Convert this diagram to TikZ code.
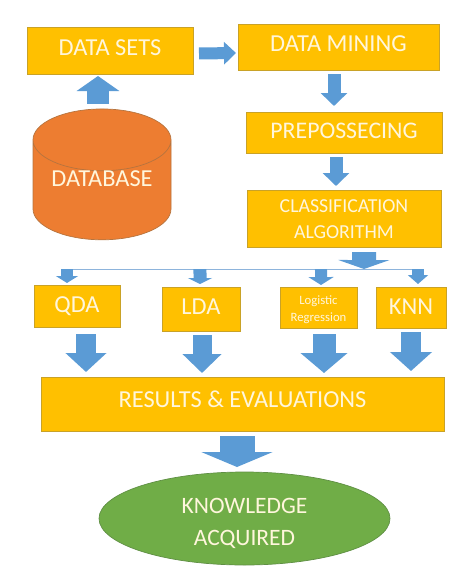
\documentclass[tikz,border=0pt]{standalone}
\usepackage{fontspec}
\setmainfont{Carlito}
\usepackage{xcolor}
\usepackage{tikz}
\usetikzlibrary{arrows.meta,positioning,calc,shapes.geometric}
\definecolor{boxfill}{HTML}{FFC000}
\definecolor{boxline}{HTML}{C9A227}
\definecolor{arrowfill}{HTML}{5B9BD5}
\definecolor{branchline}{HTML}{8DB4DC}
\definecolor{dbfill}{HTML}{ED7D31}
\definecolor{dbline}{HTML}{B5743F}
\definecolor{okfill}{HTML}{70AD47}
\definecolor{okline}{HTML}{5F8F44}
\definecolor{labeltext}{HTML}{FFF6DC}
\tikzset{
  stagebox/.style={draw=boxline, line width=0.7pt, fill=boxfill, text=labeltext, align=center, inner sep=0pt, outer sep=0pt, font=\fontsize{24.4}{27}\selectfont},
  fatarrow/.style n args={3}{draw=arrowfill, line width=#1pt, -{Triangle[width=#2pt,length=#3pt]}},
}
\begin{document}
\begin{tikzpicture}[x=1pt, y=-1pt]
\useasboundingbox (0,0) rectangle (474,586);
\node[stagebox, minimum width=166pt, minimum height=47pt] (datasets) at (110,50.5) {\raisebox{6pt}{DATA SETS}};
\node[stagebox, minimum width=201pt, minimum height=46pt] (mining) at (338.5,47) {\raisebox{7pt}{DATA MINING}};
\node[stagebox, minimum width=196pt, minimum height=41pt, font=\fontsize{23.8}{27}\selectfont] (prep) at (344,132.5) {\raisebox{3pt}{PREPOSSECING}};
\node[stagebox, minimum width=194pt, minimum height=57pt, font=\fontsize{19.8}{26}\selectfont] (classif) at (344,218.5) {\rule{0pt}{15pt}CLASSIFICATION\\ALGORITHM};
\node[stagebox, minimum width=86pt, minimum height=42pt] (qda) at (77,306) {QDA};
\node[stagebox, minimum width=78pt, minimum height=44pt] (lda) at (201,309) {\raisebox{4pt}{LDA}};
\node[stagebox, minimum width=77pt, minimum height=41pt, font=\fontsize{12.7}{17}\selectfont] (logreg) at (318.5,307.5) {\rule{0pt}{13pt}Logistic\\Regression};
\node[stagebox, minimum width=70pt, minimum height=41pt] (knn) at (411,307.5) {\raisebox{2pt}{KNN}};
\node[stagebox, minimum width=403pt, minimum height=54pt] (results) at (242.5,404) {\raisebox{10pt}{RESULTS \& EVALUATIONS}};
\node[ellipse, draw=okline, line width=0.7pt, fill=okfill, text=labeltext, align=center, inner sep=0pt, outer sep=0pt, minimum width=291pt, minimum height=93pt, font=\fontsize{23.5}{32}\selectfont] (knowledge) at (244.5,518.5) {\rule{0pt}{26pt}KNOWLEDGE\\ACQUIRED};
\node[cylinder, shape border rotate=90, aspect=0.61, draw=dbline, line width=0.7pt, fill=dbfill, text=labeltext, inner sep=0pt, outer sep=0pt, minimum width=138pt, minimum height=127pt, font=\fontsize{24.4}{24}\selectfont] (database) at (102,190) {\raisebox{22pt}{DATABASE}};
\coordinate (branchl) at (67,269);
\coordinate (branchr) at (418,269);
\draw[branchline, line width=0.8pt] (branchl) -- (branchr);
\draw[fatarrow={22}{42}{15}] ([shift={(-4,-5)}]database.top) -- ([shift={(-12,2)}]datasets.south);
\draw[fatarrow={12}{22}{12}] ([shift={(6,3)}]datasets.east) -- ([shift={(-2,6)}]mining.west);
\draw[fatarrow={13}{26}{13}] ([shift={(-4.5,4)}]mining.south) -- ([shift={(-10,-6)}]prep.north);
\draw[fatarrow={13}{26}{13}] ([shift={(-8,4)}]prep.south) -- ([shift={(-8,-4)}]classif.north);
\draw[fatarrow={24}{51}{9}] ([shift={(20,5)}]classif.south) -- ($(branchl)!297/351!(branchr)$);
\draw[fatarrow={12}{22}{7}] (branchl) -- ([shift={(-10,-2)}]qda.north);
\draw[fatarrow={13}{24}{6}] ($(branchl)!133/351!(branchr)$) -- ([shift={(-1,-3)}]lda.north);
\draw[fatarrow={12}{25}{8}] ($(branchl)!254/351!(branchr)$) -- ([shift={(2.5,-2)}]logreg.north);
\draw[fatarrow={12}{20}{9}] (branchr) -- ([shift={(7,-3)}]knn.north);
\draw[fatarrow={20}{40}{19}] ([shift={(9,7)}]qda.south) -- ([shift={(-156.5,-5)}]results.north);
\draw[fatarrow={19}{38}{19}] ([shift={(1,4)}]lda.south) -- ([shift={(-40.5,-4)}]results.north);
\draw[fatarrow={23}{46}{20}] ([shift={(5.5,6)}]logreg.south) -- ([shift={(81.5,-4)}]results.north);
\draw[fatarrow={20}{41}{19}] ([shift={(0,4)}]knn.south) -- ([shift={(168.5,-6)}]results.north);
\draw[fatarrow={35}{71}{15}] ([shift={(-5.5,5)}]results.south) -- ([shift={(-7.5,-5)}]knowledge.north);
\end{tikzpicture}
\end{document}
